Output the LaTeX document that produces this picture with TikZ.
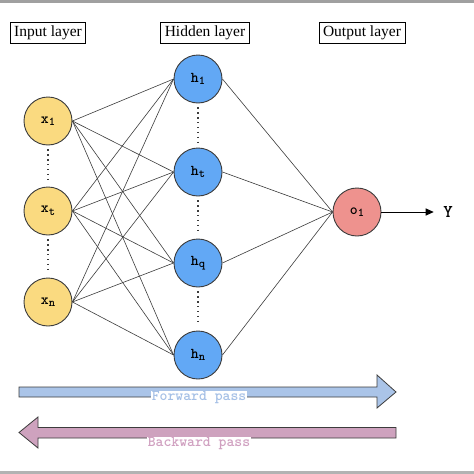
\documentclass[tikz,border=0pt]{standalone}
\usepackage{fontspec}
\setmainfont{Liberation Serif}
\usetikzlibrary{arrows.meta}
\definecolor{infill}{RGB}{250,218,128}
\definecolor{hidfill}{RGB}{98,168,245}
\definecolor{outfill}{RGB}{238,146,142}
\definecolor{edgec}{RGB}{60,60,60}
\definecolor{fwdfill}{RGB}{170,196,232}
\definecolor{bwdfill}{RGB}{206,162,190}
\definecolor{fwdtext}{RGB}{165,192,230}
\definecolor{bwdtext}{RGB}{208,160,192}
\definecolor{barc}{RGB}{160,160,160}
\newcommand{\subx}[1]{\raisebox{-2.5pt}{\fontsize{12}{13}\selectfont #1}}
\tikzset{
  layerbox/.style={draw=black, line width=0.8pt, inner xsep=4pt, minimum height=21pt, font=\fontsize{15.5}{18}\selectfont},
  neuron/.style={circle, draw=edgec, line width=0.9pt, minimum size=48pt, inner sep=0pt, font=\ttfamily\bfseries\fontsize{15}{17}\selectfont},
  innode/.style={neuron, fill=infill},
  hidnode/.style={neuron, fill=hidfill},
  outnode/.style={neuron, fill=outfill},
  conn/.style={draw=edgec, line width=0.6pt},
  dotline/.style={draw=edgec, line width=1.4pt, dash pattern=on 1.3pt off 3.6pt, shorten <=4pt, shorten >=5pt},
  passlabel/.style={fill=white, inner xsep=1pt, inner ysep=1pt, font=\ttfamily\bfseries\fontsize{15}{17}\selectfont},
}
\begin{document}
\begin{tikzpicture}[x=1pt, y=-1pt]
\useasboundingbox (0,0) rectangle (474,474);
\fill[white] (0,0) rectangle (474,474);
\fill[barc] (0,0) rectangle (474,2.5);
\fill[barc!80] (0,470.5) rectangle (474,474);

% layer titles
\node[layerbox] (tin) at (48,32.5) {Input layer};
\node[layerbox] (thid) at (205,32.5) {Hidden layer};
\node[layerbox] (tout) at (362,32.5) {Output layer};

% nodes
\node[innode] (x1) at (48,121) {x\subx{1}};
\node[innode] (xt) at (48,211) {x\subx{t}};
\node[innode] (xn) at (48,302) {x\subx{n}};
\node[hidnode] (h1) at (198,79) {h\subx{1}};
\node[hidnode] (ht) at (198,172) {h\subx{t}};
\node[hidnode] (hq) at (198,263) {h\subx{q}};
\node[hidnode] (hn) at (198,355) {h\subx{n}};
\node[outnode] (o1) at (357,212) {o\subx{1}};
\node[font=\ttfamily\bfseries\fontsize{18}{20}\selectfont] (y) at (448,212) {Y};

% connectors
\foreach \i in {x1,xt,xn}{
  \foreach \j in {h1,ht,hq,hn}{
    \draw[conn] (\i.east) -- (\j.west);
  }
}
\foreach \j in {h1,ht,hq,hn}{
  \draw[conn] (\j.east) -- (o1.west);
}
\draw[draw=black, line width=1pt, shorten >=6pt, -{Triangle[length=8pt,width=7pt]}] (o1.east) -- (y.west);

% dotted
\draw[dotline] (x1.south) -- (xt.north);
\draw[dotline] (xt.south) -- (xn.north);
\draw[dotline] (h1.south) -- (ht.north);
\draw[dotline] (ht.south) -- (hq.north);
\draw[dotline] (hq.south) -- (hn.north);

% pass arrows
\draw[fill=fwdfill, draw=edgec, line width=0.8pt, line join=miter]
  (19,387) -- (377,387) -- (377,375) -- (396,392) -- (377,408) -- (377,397) -- (19,397) -- cycle;
\draw[fill=bwdfill, draw=edgec, line width=0.8pt, line join=miter]
  (396,427.5) -- (38,427.5) -- (38,417) -- (19,432.5) -- (38,448) -- (38,438) -- (396,438) -- cycle;
\node[passlabel, text=fwdtext] (fp) at (199,398) {Forward pass};
\node[passlabel, text=bwdtext] (bp) at (199,444) {Backward pass};
\end{tikzpicture}
\end{document}
